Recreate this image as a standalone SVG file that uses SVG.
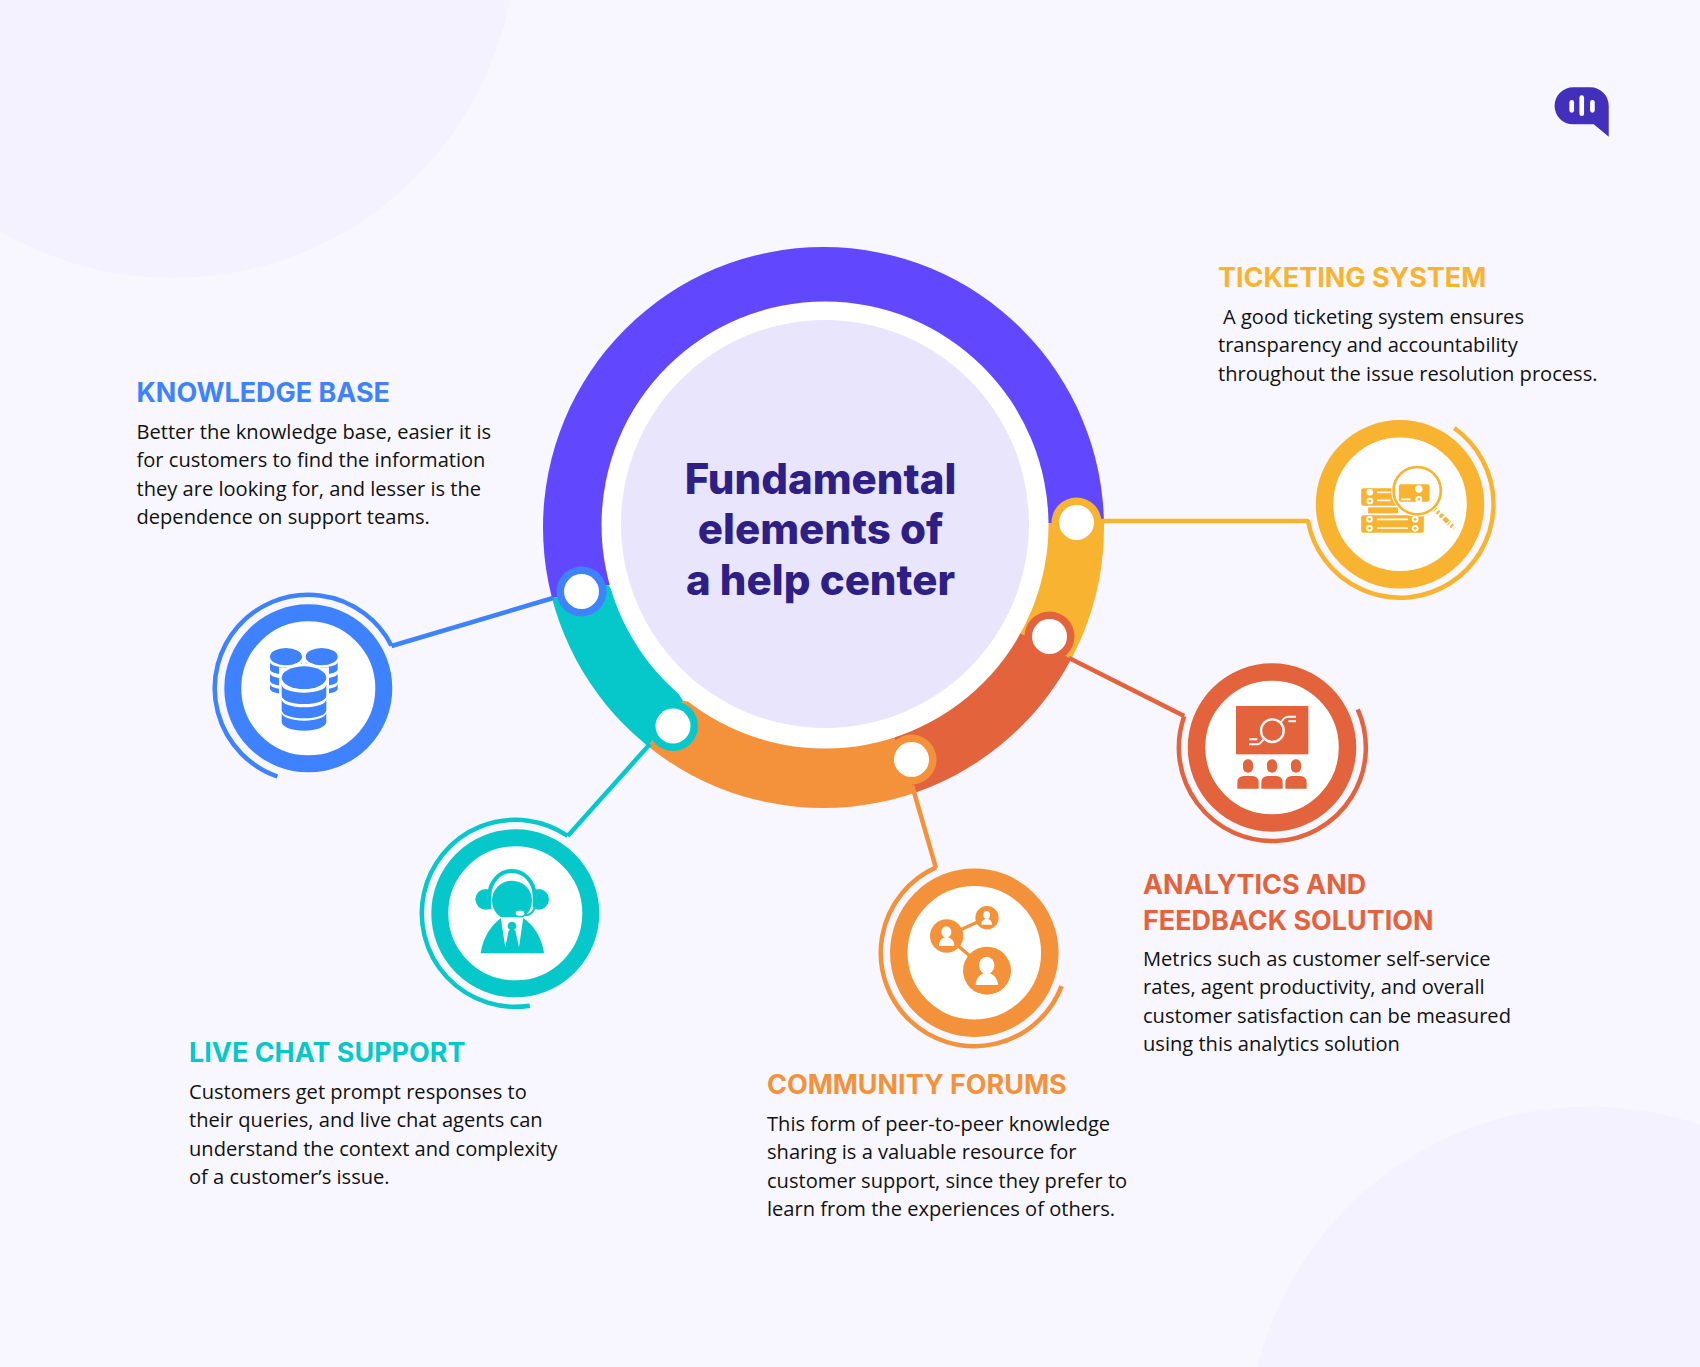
<svg xmlns="http://www.w3.org/2000/svg" width="1700" height="1367" viewBox="0 0 1700 1367">
<style>
.h{font-family:Inter,"Liberation Sans",sans-serif;font-weight:700;font-size:26.95px}
.b{font-family:"Open Sans","Noto Sans",sans-serif;font-size:20.1px;fill:#111}
.t{font-family:Inter,"Liberation Sans",sans-serif;font-weight:800;font-size:42px;fill:#2E1F85;text-anchor:middle}
.w{fill:#fff}
.thin{fill:none;stroke-width:4.5}
.wl{stroke:#fff;fill:none}
</style>
<defs><clipPath id="hubclip"><circle cx="823.5" cy="527.5" r="280.5"/></clipPath></defs>
<rect width="1700" height="1367" fill="#F8F7FF"/>
<g id="background"><circle cx="173" cy="-65" r="343" fill="#F4F2FE"/><circle cx="1590" cy="1449" r="342.5" fill="#F4F2FE"/></g>
<g id="hub">
<g clip-path="url(#hubclip)">
<path d="M1040 523H1120V230H520V606L553 598L608.5 585Z" fill="#6148FF"/>
<path d="M1040 523H1120V683L1019.5 632.7Z" fill="#F8B331"/>
<path d="M1019.5 632.7L1120 683V820H925L914.6 791.7L894 738Z" fill="#E2633C"/>
<path d="M894 738L914.6 791.7L925 820L760 840L600 810L620 783L683 700.7Z" fill="#F3923A"/>
<path d="M683 700.7L620 783L600 810H520V606L553 598L608.5 585Z" fill="#06C8CB"/>
</g>
<circle cx="825" cy="525" r="223.5" fill="#fff"/>
<circle cx="825" cy="524" r="204" fill="#E9E5FC"/>
<text class="t"><tspan x="820.5" y="493.5">Fundamental</tspan><tspan x="820.5" y="544.3">elements of</tspan><tspan x="820.5" y="595">a help center</tspan></text>
</g>
<g id="connectors" fill="none" stroke-width="4.5">
<path d="M553 598L391.5 646" stroke="#3F82FF"/>
<path d="M650 744L567.7 836" stroke="#06C8CB"/>
<path d="M912 785L936 868" stroke="#F3923A"/>
<path d="M1069 658L1184.2 716" stroke="#E2633C"/>
<path d="M1100 521H1309" stroke="#F8B331"/>
</g>
<g id="dots">
<circle cx="581.5" cy="591.5" r="25" fill="#3F82FF"/><circle cx="581.5" cy="591.5" r="17.5" class="w"/>
<circle cx="673" cy="726" r="25" fill="#06C8CB"/><circle cx="673" cy="726" r="17.5" class="w"/>
<circle cx="911.5" cy="759.5" r="25" fill="#F3923A"/><circle cx="911.5" cy="759.5" r="17.5" class="w"/>
<circle cx="1049.5" cy="636.5" r="25" fill="#E2633C"/><circle cx="1049.5" cy="636.5" r="17.5" class="w"/>
<circle cx="1076.5" cy="522.5" r="25" fill="#F8B331"/><circle cx="1076.5" cy="522.5" r="17.5" class="w"/>
</g>
<g id="node-ticketing">
<circle cx="1400" cy="504.3" r="75.5" fill="#fff" stroke="#F8B331" stroke-width="17.5"/>
<path d="M1307.9 520.3A93.5 93.5 0 1 0 1454.2 428" class="thin" stroke="#F8B331"/>
<g transform="translate(1280.5 400) scale(.33333)" fill="#F8B331">
<rect x="242" y="265" width="115" height="52" rx="6"/><rect x="263" y="322" width="90" height="18"/><rect x="242" y="346" width="188" height="52" rx="6"/>
<circle cx="410" cy="272" r="78" fill="#fff"/>
<circle cx="410" cy="272" r="71" fill="#fff" stroke="#F8B331" stroke-width="8"/>
<rect x="355" y="253" width="92" height="52" rx="6"/>
<circle cx="268" cy="277" r="10" class="w"/><circle cx="268" cy="303" r="10" class="w"/><circle cx="268" cy="303" r="4"/>
<circle cx="415" cy="267" r="11" class="w"/><circle cx="415" cy="298" r="10" class="w"/><circle cx="415" cy="298" r="4"/>
<circle cx="267" cy="358" r="10" class="w"/><circle cx="267" cy="358" r="4"/><circle cx="267" cy="385" r="10" class="w"/><circle cx="267" cy="385" r="4"/>
<circle cx="404" cy="358" r="10" class="w"/><circle cx="404" cy="358" r="4"/><circle cx="404" cy="385" r="10" class="w"/><circle cx="404" cy="385" r="4"/>
<path d="M290 277H330M290 301H330M290 358H382M290 384H382M362 298H390" class="wl" stroke-width="5"/>
<path d="M463 328L522 385" stroke="#F8B331" stroke-width="14" stroke-dasharray="3 7 6 7 9 6 16 4" fill="none"/>
</g>
</g>
<g id="node-knowledge">
<circle cx="308.3" cy="688.3" r="75.5" fill="#fff" stroke="#3F82FF" stroke-width="17"/>
<path d="M391.5 645.7A93.5 93.5 0 1 0 277.4 776.5" class="thin" stroke="#3F82FF"/>
<g transform="translate(200 580) scale(.33333)" fill="#3F82FF">
<path d="M210 246A48 16 0 0 0 306 246V268A48 16 0 0 1 210 268ZM317 246A48 16 0 0 0 413 246V268A48 16 0 0 1 317 268Z"/>
<path d="M210 280A48 16 0 0 0 306 280V302A48 16 0 0 1 210 302ZM317 280A48 16 0 0 0 413 280V302A48 16 0 0 1 317 302Z"/>
<path d="M210 312A48 16 0 0 0 306 312V326A48 16 0 0 1 210 326ZM317 312A48 16 0 0 0 413 312V326A48 16 0 0 1 317 326Z"/>
<ellipse cx="258" cy="230" rx="48" ry="26"/><ellipse cx="365" cy="230" rx="48" ry="26"/>
<rect x="237" y="262" width="150" height="190" fill="#fff"/>
<ellipse cx="312" cy="293" rx="75" ry="42" fill="#fff"/>
<ellipse cx="312" cy="293" rx="67" ry="34"/>
<path d="M245 314A67 24 0 0 0 379 314V348A67 24 0 0 1 245 348Z"/>
<path d="M245 358A67 24 0 0 0 379 358V391A67 24 0 0 1 245 391Z"/>
<path d="M245 398A67 24 0 0 0 379 398V426A67 26 0 0 1 245 426Z"/>
</g>
</g>
<g id="node-chat">
<circle cx="515.3" cy="913.3" r="75.5" fill="#fff" stroke="#06C8CB" stroke-width="17"/>
<path d="M567.7 835.9A93.5 93.5 0 1 0 529.8 1005.7" class="thin" stroke="#06C8CB"/>
<g transform="translate(410 800) scale(.33333)" fill="#06C8CB">
<circle cx="227" cy="298" r="31"/><circle cx="386" cy="298" r="31"/>
<ellipse cx="306" cy="290" rx="73" ry="85" fill="#fff"/>
<path d="M238 328V288A68 75 0 0 1 374 288V322" fill="none" stroke="#06C8CB" stroke-width="12"/>
<circle cx="306" cy="302" r="60"/>
<path d="M374 322Q368 346 345 346" fill="none" stroke="#06C8CB" stroke-width="6"/>
<rect x="317" y="332" width="26" height="15" rx="7" fill="#fff"/>
<path d="M212 460C218 412 245 375 272 355H340C370 375 396 412 402 460Z"/>
<path d="M272 352H340L327 442L316 392H296L286 442Z" fill="#fff"/>
<circle cx="306" cy="378" r="13"/><path d="M298 390H314L326 445L306 458L286 445Z"/>
</g>
</g>
<g id="node-community">
<circle cx="974.3" cy="952.7" r="75.5" fill="#fff" stroke="#F3923A" stroke-width="17.5"/>
<path d="M936 867.4A93.5 93.5 0 1 0 1061.6 986.1" class="thin" stroke="#F3923A"/>
<g transform="translate(870 850) scale(.33333)" fill="#F3923A">
<path d="M230 258L351 203M230 258L351 362" stroke="#F3923A" stroke-width="10"/>
<circle cx="230" cy="258" r="50"/><circle cx="351" cy="203" r="35"/><circle cx="351" cy="362" r="72"/>
<g fill="#fff">
<ellipse cx="229" cy="246" rx="15" ry="17"/><path d="M207 288C207 270 218 262 229 262C240 262 253 270 253 288Z"/>
<ellipse cx="350" cy="195" rx="10" ry="12"/><path d="M334 224C334 212 342 207 350 207C358 207 366 212 366 224Z"/>
<ellipse cx="350" cy="346" rx="23" ry="26"/><path d="M317 405C317 382 335 368 350 368C365 368 384 382 384 405Z"/>
</g>
</g>
</g>
<g id="node-analytics">
<circle cx="1272" cy="747.5" r="75.5" fill="#fff" stroke="#E2633C" stroke-width="17.5"/>
<path d="M1184.2 716.3A93.5 93.5 0 1 0 1357.7 709.3" class="thin" stroke="#E2633C"/>
<g transform="translate(1160 650) scale(.33333)" fill="#E2633C">
<rect x="228" y="168" width="217" height="145"/>
<circle cx="337" cy="242" r="34" fill="none" stroke="#fff" stroke-width="7"/>
<path d="M267 283H292Q300 283 310 268M268 268H292M362 218Q372 200 385 200H408M385 214H408" class="wl" stroke-width="6"/>
<rect x="249" y="328" width="30" height="40" rx="15"/><rect x="321" y="328" width="30" height="40" rx="15"/><rect x="393" y="328" width="30" height="40" rx="15"/>
<path d="M232 416V398Q232 378 252 378H276Q296 378 296 398V416ZM304 416V398Q304 378 324 378H348Q368 378 368 398V416ZM376 416V398Q376 378 396 378H420Q440 378 440 398V416Z"/>
</g>
</g>
<g id="logo" transform="translate(1530.4 70) scale(.33333)">
<path d="M128 52H180A55 55 0 0 1 235 107V200L190 163H128A55 55 0 0 1 128 52Z" fill="#4230BC"/>
<g fill="#fff"><rect x="117" y="90" width="14" height="38" rx="7"/><rect x="147" y="76" width="14" height="62" rx="7"/><rect x="179" y="90" width="14" height="38" rx="7"/></g>
</g>
<g id="labels">
<text class="h" x="1218" y="287" fill="#F8B331">TICKETING SYSTEM</text>
<text class="b"><tspan x="1223" y="323.5">A good ticketing system ensures</tspan><tspan x="1218" y="352">transparency and accountability</tspan><tspan x="1218" y="380.5">throughout the issue resolution process.</tspan></text>
<text class="h" x="136.5" y="402" fill="#3F82FF">KNOWLEDGE BASE</text>
<text class="b"><tspan x="136.5" y="438.8">Better the knowledge base, easier it is</tspan><tspan x="136.5" y="467">for customers to find the information</tspan><tspan x="136.5" y="495.5">they are looking for, and lesser is the</tspan><tspan x="136.5" y="524">dependence on support teams.</tspan></text>
<text class="h" x="189" y="1062" fill="#06C8CB">LIVE CHAT SUPPORT</text>
<text class="b"><tspan x="189" y="1098.8">Customers get prompt responses to</tspan><tspan x="189" y="1127.3">their queries, and live chat agents can</tspan><tspan x="189" y="1155.8">understand the context and complexity</tspan><tspan x="189" y="1184.3">of a customer’s issue.</tspan></text>
<text class="h" x="767" y="1094" fill="#F3923A">COMMUNITY FORUMS</text>
<text class="b"><tspan x="767" y="1130.6">This form of peer-to-peer knowledge</tspan><tspan x="767" y="1159">sharing is a valuable resource for</tspan><tspan x="767" y="1187.5">customer support, since they prefer to</tspan><tspan x="767" y="1216">learn from the experiences of others.</tspan></text>
<text class="h" fill="#E2633C"><tspan x="1143" y="894">ANALYTICS AND</tspan><tspan x="1143" y="930">FEEDBACK SOLUTION</tspan></text>
<text class="b"><tspan x="1143" y="965.6">Metrics such as customer self-service</tspan><tspan x="1143" y="994">rates, agent productivity, and overall</tspan><tspan x="1143" y="1022.5">customer satisfaction can be measured</tspan><tspan x="1143" y="1051">using this analytics solution</tspan></text>
</g>
</svg>
